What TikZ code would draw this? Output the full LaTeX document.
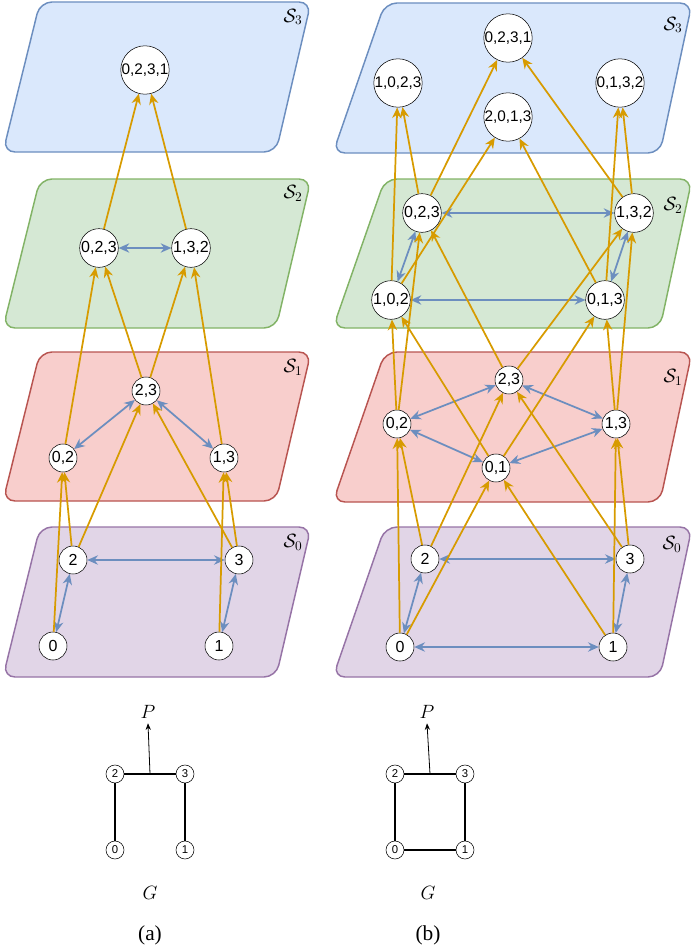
\documentclass[tikz,border=0pt]{standalone}
\usepackage{fontspec}
\setmainfont{Liberation Sans}
\newfontfamily\serifrm{Liberation Serif}
\usetikzlibrary{arrows.meta}
\definecolor{yel}{HTML}{D79B00}
\definecolor{blu}{HTML}{6C8EBF}
\definecolor{f3}{HTML}{DAE8FC}\definecolor{d3}{HTML}{6C8EBF}
\definecolor{f2}{HTML}{D5E8D4}\definecolor{d2}{HTML}{82B366}
\definecolor{f1}{HTML}{F8CECC}\definecolor{d1}{HTML}{B85450}
\definecolor{f0}{HTML}{E1D5E7}\definecolor{d0}{HTML}{9673A6}
\begin{document}
\begin{tikzpicture}[x=0.75pt,y=-0.75pt,
  every node/.style={font=\fontsize{12}{14}\selectfont},
  n/.style={circle,draw,fill=white,inner sep=0pt,minimum size=21pt},
  n3/.style={n,minimum size=29pt},
  n4/.style={n,minimum size=35pt,font=\fontsize{11.5}{13}\selectfont},
  g/.style={circle,draw,fill=white,inner sep=0pt,minimum size=13.5pt,font=\fontsize{8.5}{9}\selectfont},
  up/.style={draw=yel,line width=1.3pt,-{Stealth[length=8pt,width=7pt]}},
  bi/.style={draw=blu,line width=1.3pt,{Stealth[length=8pt,width=7pt]}-{Stealth[length=8pt,width=7pt]}},
  pl/.style={line width=1.1pt,rounded corners=9pt},
  sl/.style={font=\fontsize{14}{16}\selectfont}]
\useasboundingbox (0,0) rectangle (693,949);
% planes left
\draw[pl,fill=f3,draw=d3] (40,2)--(311,2)--(276,152)--(3,152)--cycle;
\draw[pl,fill=f2,draw=d2] (40,179)--(311,179)--(276,328)--(3,328)--cycle;
\draw[pl,fill=f1,draw=d1] (40,352)--(311,352)--(276,501)--(3,501)--cycle;
\draw[pl,fill=f0,draw=d0] (40,527)--(311,527)--(276,677)--(3,677)--cycle;
\node[sl] (ls3) at (293,17) {$\mathcal{S}_3$};
\node[sl] (ls2) at (293,193) {$\mathcal{S}_2$};
\node[sl] (ls1) at (293,367) {$\mathcal{S}_1$};
\node[sl] (ls0) at (293,542) {$\mathcal{S}_0$};
% planes right
\draw[pl,fill=f3,draw=d3] (385,3)--(692,3)--(660,153)--(333,153)--cycle;
\draw[pl,fill=f2,draw=d2] (385,179)--(692,179)--(660,328)--(333,328)--cycle;
\draw[pl,fill=f1,draw=d1] (385,352)--(692,352)--(660,502)--(333,502)--cycle;
\draw[pl,fill=f0,draw=d0] (385,527)--(692,527)--(660,677)--(333,677)--cycle;
\node[sl] (rs3) at (673,25) {$\mathcal{S}_3$};
\node[sl] (rs2) at (673,205) {$\mathcal{S}_2$};
\node[sl] (rs1) at (673,377) {$\mathcal{S}_1$};
\node[sl] (rs0) at (672,544) {$\mathcal{S}_0$};
% left nodes
\node[n] (a0) at (53,646) {0};
\node[n] (a1) at (219,646) {1};
\node[n] (a2) at (73,560) {2};
\node[n] (a3) at (239,560) {3};
\node[n] (a02) at (63,458) {0,2};
\node[n] (a23) at (146,391) {2,3};
\node[n] (a13) at (224,458) {1,3};
\node[n3] (a023) at (99,248) {0,2,3};
\node[n3] (a132) at (191,248) {1,3,2};
\node[n4] (a0231) at (145,70) {0,2,3,1};
% right nodes
\node[n] (b0) at (400,647) {0};
\node[n] (b1) at (613,647) {1};
\node[n] (b2) at (425,559) {2};
\node[n] (b3) at (630,559) {3};
\node[n] (b23) at (509,380) {2,3};
\node[n] (b02) at (397,424) {0,2};
\node[n] (b13) at (616,424) {1,3};
\node[n] (b01) at (496,468) {0,1};
\node[n3] (b023) at (422,213) {0,2,3};
\node[n3] (b132) at (634,213) {1,3,2};
\node[n3] (b102) at (391,300) {1,0,2};
\node[n3] (b013) at (605,300) {0,1,3};
\node[n4] (b1023) at (398,83) {1,0,2,3};
\node[n4] (b0231) at (508,38) {0,2,3,1};
\node[n4] (b2013) at (508,117) {2,0,1,3};
\node[n4] (b0132) at (620,83) {0,1,3,2};
% left edges
\draw[bi] (a0)--(a2); \draw[bi] (a2)--(a3); \draw[bi] (a1)--(a3);
\draw[bi] (a02)--(a23); \draw[bi] (a23)--(a13);
\draw[bi] (a023)--(a132);
\foreach \s/\t in {a0/a02,a2/a02,a2/a23,a3/a23,a1/a13,a3/a13,a02/a023,a23/a023,a23/a132,a13/a132,a023/a0231,a132/a0231}
  \draw[up] (\s)--(\t);
% right edges
\foreach \s/\t in {b0/b2,b2/b3,b3/b1,b0/b1,b02/b23,b23/b13,b13/b01,b01/b02,b023/b132,b102/b013,b023/b102,b132/b013}
  \draw[bi] (\s)--(\t);
\foreach \s/\t in {b0/b02,b2/b02,b0/b01,b1/b01,b2/b23,b3/b23,b1/b13,b3/b13,
  b02/b023,b02/b102,b01/b102,b01/b013,b23/b023,b23/b132,b13/b013,b13/b132,
  b102/b1023,b023/b1023,b023/b0231,b132/b0231,b102/b2013,b013/b2013,b013/b0132,b132/b0132}
  \draw[up] (\s)--(\t);
% bottom graphs
\node[g] (g2) at (115,774) {2}; \node[g] (g3) at (185,774) {3};
\node[g] (g0) at (115,850) {0}; \node[g] (g1) at (185,850) {1};
\draw[line width=1.3pt] (g0)--(g2)--(g3)--(g1);
\coordinate (pa) at (150,774);
\node[font=\fontsize{15}{17}\selectfont] (Pa) at (148,712) {$P$};
\draw[-{Stealth[length=5pt,width=4pt]},line width=0.6pt] (pa)--(Pa.south);
\node[font=\fontsize{15}{17}\selectfont] (Ga) at (150,893) {$G$};
\node[font=\serifrm\fontsize{16}{18}\selectfont] (la) at (150,935) {(a)};
\node[g] (h2) at (395,774) {2}; \node[g] (h3) at (465,774) {3};
\node[g] (h0) at (395,850) {0}; \node[g] (h1) at (465,850) {1};
\draw[line width=1.3pt] (h0)--(h2)--(h3)--(h1)--(h0);
\coordinate (pb) at (430,774);
\node[font=\fontsize{15}{17}\selectfont] (Pb) at (427,712) {$P$};
\draw[-{Stealth[length=5pt,width=4pt]},line width=0.6pt] (pb)--(Pb.south);
\node[font=\fontsize{15}{17}\selectfont] (Gb) at (428,893) {$G$};
\node[font=\serifrm\fontsize{16}{18}\selectfont] (lb) at (428,935) {(b)};
\end{tikzpicture}
\end{document}
